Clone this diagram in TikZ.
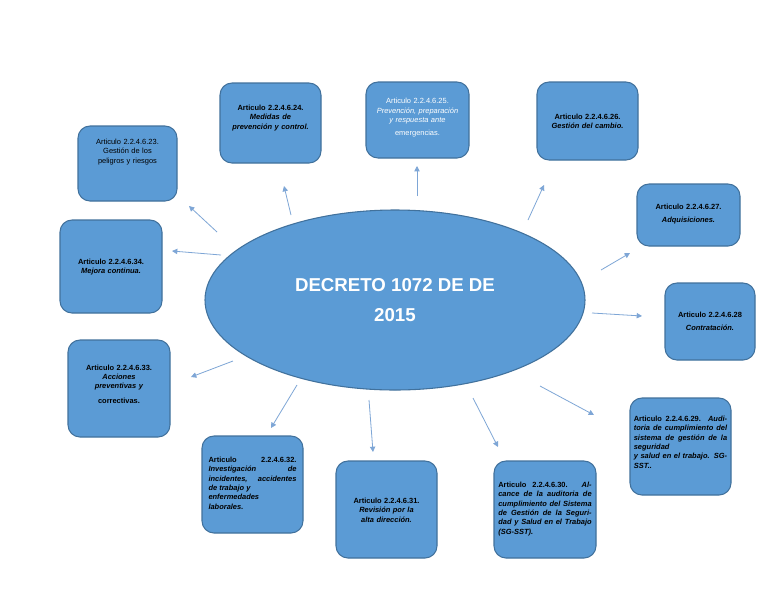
\documentclass[tikz,border=0pt]{standalone}
\usepackage{fontspec}
\setmainfont{Liberation Sans}
\usetikzlibrary{arrows.meta}
\definecolor{fillb}{HTML}{5B9BD5}
\definecolor{edgeb}{HTML}{41719C}
\definecolor{arr}{HTML}{7EA6D6}
\begin{document}
\begin{tikzpicture}[x=0.75pt,y=-0.75pt,
  box/.style={draw=edgeb,fill=fillb,rounded corners=9pt,line width=0.8pt},
  txt/.style={font=\fontsize{5.6}{7}\selectfont\bfseries,text width=#1,align=center,inner sep=0pt},
  txt/.default=62pt,
  con/.style={draw=arr,line width=0.6pt,-{Triangle[length=4pt,width=4pt]}}]
\useasboundingbox (0,0) rectangle (768,594);
\fill[white] (0,0) rectangle (768,594);
% boxes
\path[box] (78,126) rectangle (177,201); \node (b23) at (127.5,150) {};
\path[box] (220,83) rectangle (321,163); \node (b24) at (270.5,123) {};
\path[box] (366,82) rectangle (469,158); \node (b25) at (417.5,120) {};
\path[box] (537,82) rectangle (638,160); \node (b26) at (587.5,121) {};
\path[box] (637,184) rectangle (740,246); \node (b27) at (688.5,215) {};
\path[box] (665,283) rectangle (755,360); \node (b28) at (710,321) {};
\path[box] (630,398) rectangle (731,495); \node (b29) at (680.5,446) {};
\path[box] (494,461) rectangle (596,558); \node (b30) at (545,510) {};
\path[box] (336,461) rectangle (437,558); \node (b31) at (386.5,510) {};
\path[box] (202,436) rectangle (303,533); \node (b32) at (252.5,485) {};
\path[box] (68,340) rectangle (170,437); \node (b33) at (119,389) {};
\path[box] (60,220) rectangle (162,313); \node (b34) at (111,267) {};
\draw[edgeb,fill=fillb,line width=0.8pt] (395,300) ellipse [x radius=190,y radius=90];
\node[font=\fontsize{14}{22}\selectfont\bfseries,text=white,align=center] (c) at (395,300) {DECRETO 1072 DE DE\\2015};
% texts
\node[txt,font=\fontsize{5.6}{7}\selectfont] (t23) at (127.5,152) {Articulo 2.2.4.6.23.\\Gestión de los peligros y riesgos};
\node[txt] (t24) at (270.5,118) {Articulo 2.2.4.6.24.\\\textit{Medidas de\\prevención y control.}};
\node[txt] (t25) at (417.5,118) {\textcolor{white}{\mdseries Articulo 2.2.4.6.25.\\\textit{Prevención, preparación y respuesta ante}\\[3pt]emergencias.}};
\node[txt] (t26) at (587.5,121) {Articulo 2.2.4.6.26.\\\textit{Gestión del cambio.}};
\node[txt] (t27) at (688.5,214) {Articulo 2.2.4.6.27.\\[3pt]\textit{Adquisiciones.}};
\node[txt] (t28) at (710,321) {Articulo 2.2.4.6.28\\[3pt]\textit{Contratación.}};
\node[txt=70pt,align=justify] (t29) at (680.5,442) {Articulo 2.2.4.6.29. \textit{Auditoria de cumplimiento del sistema de gestión de la seguridad\\ y salud en el trabajo. SG-SST..}};
\node[txt=70pt,align=justify] (t30) at (545,509) {Articulo 2.2.4.6.30. \textit{Alcance de la auditoria de cumplimiento del Sistema de Gestión de la Seguridad y Salud en el Trabajo (SG-SST).}};
\node[txt] (t31) at (386.5,510) {Articulo 2.2.4.6.31.\\\textit{Revisión por la alta dirección.}};
\node[txt=66pt,align=justify] (t32) at (252.5,483) {Articulo 2.2.4.6.32. \textit{Investigación de incidentes, accidentes de trabajo y\\ enfermedades\\ laborales.}};
\node[txt] (t33) at (119,384) {Articulo 2.2.4.6.33.\\\textit{Acciones\\preventivas y}\\[4pt]correctivas.};
\node[txt] (t34) at (111,267) {Articulo 2.2.4.6.34.\\\textit{Mejora continua.}};
% connectors
\foreach \n/\ax/\ay/\bx/\by in {23/217/232/189/206, 24/291/215/284/186, 25/417/196/417/166, 26/528/220/544/185, 27/601/270/630/253, 28/592/313/642/316, 29/540/386/594/415, 30/473/398/498/447, 31/369/400/373/452, 32/297/385/271/428, 33/233/361/191/377, 34/221/255/172/251}{
  \coordinate (s\n) at (\ax,\ay);
  \coordinate (e\n) at (\bx,\by);
  \draw[con] (s\n) -- (e\n);
}
\end{tikzpicture}
\end{document}
